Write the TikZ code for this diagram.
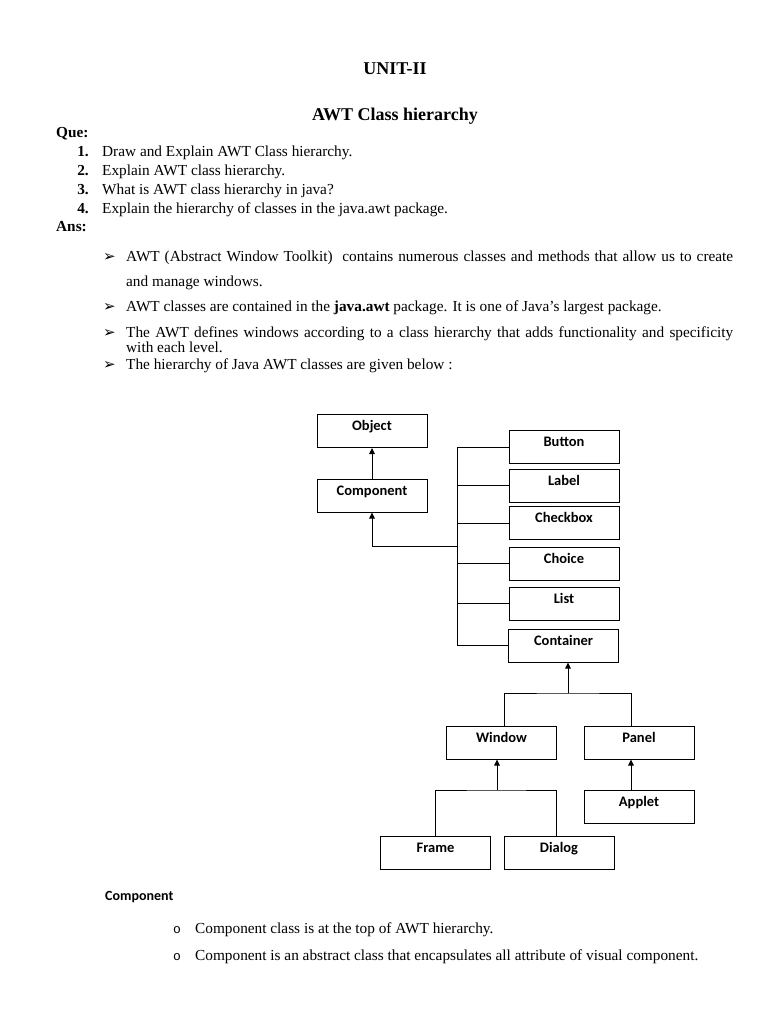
\documentclass[tikz,border=0pt]{standalone}
\usepackage{fontspec}
\setmainfont{Liberation Serif}
\newfontfamily\calfont{Carlito}
\newfontfamily\djfont{DejaVu Sans}
\newfontfamily\monofont{Liberation Mono}
\usetikzlibrary{arrows.meta}
\begin{document}
\begin{tikzpicture}[x=1pt,y=-1pt,
  cls/.style={draw,line width=1pt,minimum width=110pt,inner ysep=0pt,text height=16pt,text depth=17pt,
    font=\calfont\bfseries\fontsize{14.5}{15}\selectfont},
  link/.style={line width=1pt},
  arr/.style={line width=1pt,-{Triangle[length=6pt,width=5.5pt]}},
  txt/.style={anchor=base west,inner sep=0pt,font=\fontsize{15.3}{18}\selectfont},
  num/.style={anchor=base east,inner sep=0pt,font=\bfseries\fontsize{15.3}{18}\selectfont},
  head/.style={anchor=base,inner sep=0pt,font=\bfseries\fontsize{18}{20}\selectfont},
  arrbul/.style={anchor=base west,inner sep=0pt,font=\djfont\fontsize{15}{16}\selectfont},
  circbul/.style={anchor=base west,inner sep=0pt,font=\monofont\fontsize{13}{14}\selectfont}]
\useasboundingbox[fill=white] (0,0) rectangle (768,1024);

% headings
\node[head] (unit) at (395,75) {UNIT-II};
\node[head] (title) at (395,121) {AWT Class hierarchy};
\node[txt,font=\bfseries\fontsize{15.3}{18}\selectfont] (que) at (56,138) {Que:};
\node[num] (n1) at (89,157) {1.};
\node[txt] (q1) at (102,157) {Draw and Explain AWT Class hierarchy.};
\node[num] (n2) at (89,176) {2.};
\node[txt] (q2) at (102,176) {Explain AWT class hierarchy.};
\node[num] (n3) at (89,195) {3.};
\node[txt] (q3) at (102,195) {What is AWT class hierarchy in java?};
\node[num] (n4) at (89,214) {4.};
\node[txt] (q4) at (102,214) {Explain the hierarchy of classes in the java.awt package.};
\node[txt,font=\bfseries\fontsize{15.3}{18}\selectfont] (ans) at (56,232) {Ans:};

% bullets
\node[arrbul] (b1) at (103,261) {➢};
\node[txt] (t1) at (126,261) {\makebox[607pt][s]{AWT (Abstract Window Toolkit)\ \ contains numerous classes and methods that allow us to create}};
\node[txt] (t1b) at (126,286) {and manage windows.};
\node[arrbul] (b2) at (103,311) {➢};
\node[txt] (t2) at (126,311) {AWT classes are contained in the \textbf{java.awt} package. It is one of Java’s largest package.};
\node[arrbul] (b3) at (103,337) {➢};
\node[txt] (t3) at (126,337) {\makebox[607pt][s]{The AWT defines windows according to a class hierarchy that adds functionality and specificity}};
\node[txt] (t3b) at (126,352) {with each level.};
\node[arrbul] (b4) at (103,369) {➢};
\node[txt] (t4) at (126,369) {The hierarchy of Java AWT classes are given below :};

% diagram
\node[cls] (obj) at (372,431) {Object};
\node[cls] (comp) at (372,495.5) {Component};
\node[cls] (button) at (564,447) {Button};
\node[cls] (label) at (564,485.5) {Label};
\node[cls] (checkbox) at (564,523) {Checkbox};
\node[cls] (choice) at (564,563.5) {Choice};
\node[cls] (list) at (564,603.5) {List};
\node[cls] (container) at (563.5,645.5) {Container};
\node[cls] (window) at (501.5,742.5) {Window};
\node[cls] (panel) at (639,742.5) {Panel};
\node[cls] (applet) at (639,806.5) {Applet};
\node[cls] (frame) at (435.5,852.5) {Frame};
\node[cls] (dialog) at (559,852.5) {Dialog};

\draw[arr] (comp.north) -- (obj.south);
\coordinate (tk) at (457,546);
\draw[arr] (tk) -| (comp.south);
\draw[link] (button.west) -- (button.west -| tk) -- (container.west -| tk) -- (container.west);
\foreach \n in {label,checkbox,choice} \draw[link] (\n.west) -- (\n.west -| tk);
\draw[line width=0.6pt] (list.west) -- (list.west -| tk);

\coordinate (cj) at (568,693);
\draw[arr] (cj) -- (cj |- container.south);
\draw[link] ([xshift=2.5pt]window.north) |- (cj) -| ([xshift=-8pt]panel.north);
\coordinate (wj) at (497,790);
\draw[arr] (wj) -- (wj |- window.south);
\draw[link] (frame.north) |- (wj) -| ([xshift=-3pt]dialog.north);
\draw[arr] ([xshift=-8pt]applet.north) -- ([xshift=-8pt]panel.south);

% bottom
\node[anchor=base west,inner sep=0pt,font=\calfont\bfseries\fontsize{14}{16}\selectfont] (chead) at (105,900) {Component};
\node[circbul] (c1) at (173,933) {o};
\node[txt] (ct1) at (195,933) {Component class is at the top of AWT hierarchy.};
\node[circbul] (c2) at (173,960) {o};
\node[txt] (ct2) at (195,960) {Component is an abstract class that encapsulates all attribute of visual component.};
\end{tikzpicture}
\end{document}
